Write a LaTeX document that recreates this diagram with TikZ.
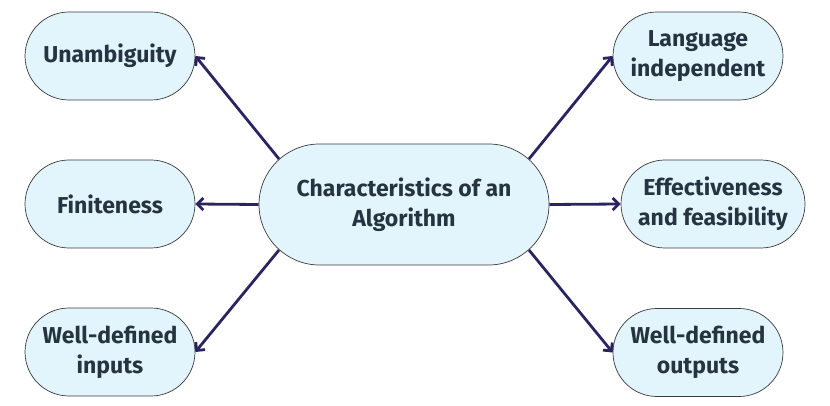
\documentclass[tikz,border=0pt]{standalone}
\usepackage{fontspec}
\setmainfont{Fira Sans}
\usetikzlibrary{shapes.misc,arrows.meta}
\definecolor{nodefill}{HTML}{E2F5FD}
\definecolor{nodeline}{HTML}{3A3A3A}
\definecolor{txt}{HTML}{263340}
\definecolor{arr}{HTML}{2B2461}
\tikzset{
  leaf/.style={rounded rectangle, draw=nodeline, line width=0.7pt, fill=nodefill,
    minimum width=170pt, minimum height=88pt, inner sep=0pt, align=center,
    text=txt, font=\fontsize{23}{30}\selectfont\bfseries},
  hub/.style={leaf, minimum width=290pt, minimum height=121pt},
  link/.style={draw=arr, line width=2.8pt, -{Straight Barb[length=6pt,width=12pt]}}
}
\begin{document}
\begin{tikzpicture}[x=1pt,y=-1pt]
\useasboundingbox (0,0) rectangle (830,406);
\node[hub] (c) at (404,204.5) {Characteristics of an\\Algorithm};
\node[leaf] (u) at (110,56) {Unambiguity};
\node[leaf] (f) at (110,204) {Finiteness};
\node[leaf] (i) at (110,352) {Well-defined\\inputs};
\node[leaf] (l) at (698,56) {Language\\independent};
\node[leaf, minimum width=184pt] (e) at (713,204) {Effectiveness\\and feasibility};
\node[leaf] (o) at (698,352.5) {Well-defined\\outputs};
\draw[link] (c.160) -- (u.east);
\draw[link] (c.west) -- (f.east);
\draw[link] (c.200) -- (i.east);
\draw[link] (c.20) -- (l.west);
\draw[link] (c.east) -- (e.west);
\draw[link] (c.-20) -- (o.west);
\end{tikzpicture}
\end{document}
